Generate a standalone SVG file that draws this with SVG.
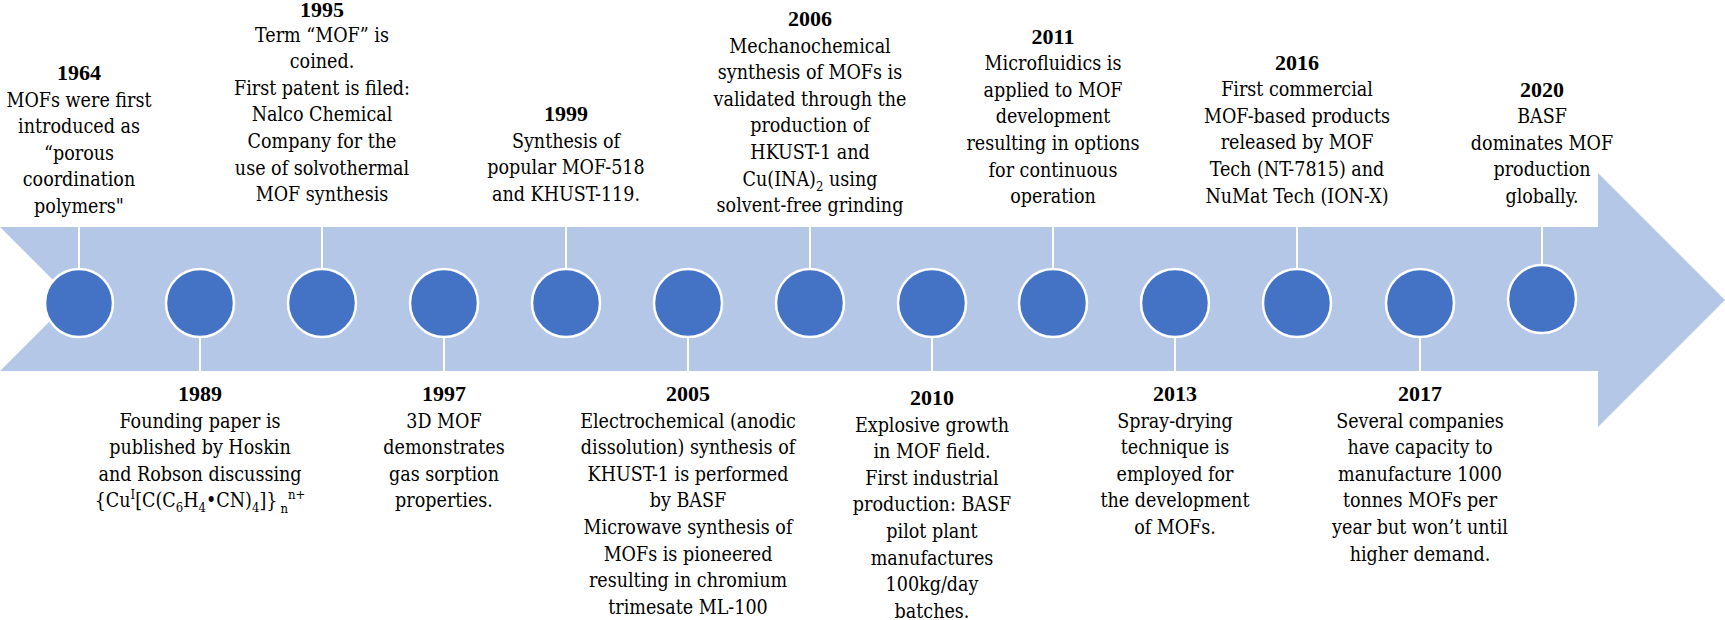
<svg xmlns="http://www.w3.org/2000/svg" width="1725" height="620" viewBox="0 0 1725 620">
<style>
.t{font-family:"DejaVu Serif Condensed","DejaVu Serif",serif;font-size:19.5px;fill:#000;text-anchor:middle}
.yr{font-family:"Liberation Serif","DejaVu Serif",serif;font-size:22px;font-weight:bold}
.s{font-size:13px}
.c{fill:#4472C4;stroke:#fff;stroke-width:2.5}
.ln{stroke:#fff;stroke-width:2;fill:none}
</style>
<rect width="1725" height="620" fill="#fff"/>
<g id="arrow">
<polygon points="0,227 1598,227 1598,173 1725,300 1598,427 1598,371 0,371 72,299" fill="#B4C7E7"/>
</g>
<g id="connectors">
<line class="ln" x1="79" y1="227" x2="79" y2="269"/>
<line class="ln" x1="200" y1="337" x2="200" y2="371"/>
<line class="ln" x1="322" y1="227" x2="322" y2="269"/>
<line class="ln" x1="444" y1="337" x2="444" y2="371"/>
<line class="ln" x1="566" y1="227" x2="566" y2="269"/>
<line class="ln" x1="688" y1="337" x2="688" y2="371"/>
<line class="ln" x1="810" y1="227" x2="810" y2="269"/>
<line class="ln" x1="932" y1="337" x2="932" y2="371"/>
<line class="ln" x1="1053" y1="227" x2="1053" y2="269"/>
<line class="ln" x1="1175" y1="337" x2="1175" y2="371"/>
<line class="ln" x1="1297" y1="227" x2="1297" y2="269"/>
<line class="ln" x1="1420" y1="337" x2="1420" y2="371"/>
<line class="ln" x1="1542" y1="227" x2="1542" y2="265"/>
</g>
<g id="n1964">
<circle class="c" cx="79" cy="303" r="34"/>
<text class="t"><tspan class="yr" x="79" y="80">1964</tspan><tspan x="79" y="106.6">MOFs were first</tspan><tspan x="79" y="133.2">introduced as</tspan><tspan x="79" y="159.8">“porous</tspan><tspan x="79" y="186.4">coordination</tspan><tspan x="79" y="213">polymers"</tspan></text>
</g>
<g id="n1989">
<circle class="c" cx="200" cy="303" r="34"/>
<text class="t"><tspan class="yr" x="200" y="401">1989</tspan><tspan x="200" y="427.6">Founding paper is</tspan><tspan x="200" y="454.2">published by Hoskin</tspan><tspan x="200" y="480.8">and Robson discussing</tspan><tspan x="200" y="507.4">{Cu<tspan class="s" dy="-8">I</tspan><tspan dy="8">[C(C</tspan><tspan class="s" dy="5">6</tspan><tspan dy="-5">H</tspan><tspan class="s" dy="5">4</tspan><tspan dy="-5">•CN)</tspan><tspan class="s" dy="5">4</tspan><tspan dy="-5">]}</tspan><tspan class="s" dx="3" dy="6">n</tspan><tspan class="s" dy="-14">n+</tspan></tspan></text>
</g>
<g id="n1995">
<circle class="c" cx="322" cy="303" r="34"/>
<text class="t"><tspan class="yr" x="322" y="17">1995</tspan><tspan x="322" y="41.6">Term “MOF” is</tspan><tspan x="322" y="68.2">coined.</tspan><tspan x="322" y="94.8">First patent is filed:</tspan><tspan x="322" y="121.4">Nalco Chemical</tspan><tspan x="322" y="148">Company for the</tspan><tspan x="322" y="174.6">use of solvothermal</tspan><tspan x="322" y="201.2">MOF synthesis</tspan></text>
</g>
<g id="n1997">
<circle class="c" cx="444" cy="303" r="34"/>
<text class="t"><tspan class="yr" x="444" y="401">1997</tspan><tspan x="444" y="427.6">3D MOF</tspan><tspan x="444" y="454.2">demonstrates</tspan><tspan x="444" y="480.8">gas sorption</tspan><tspan x="444" y="507.4">properties.</tspan></text>
</g>
<g id="n1999">
<circle class="c" cx="566" cy="303" r="34"/>
<text class="t"><tspan class="yr" x="566" y="121">1999</tspan><tspan x="566" y="147.6">Synthesis of</tspan><tspan x="566" y="174.2">popular MOF-518</tspan><tspan x="566" y="200.8">and KHUST-119.</tspan></text>
</g>
<g id="n2005">
<circle class="c" cx="688" cy="303" r="34"/>
<text class="t"><tspan class="yr" x="688" y="401">2005</tspan><tspan x="688" y="427.6">Electrochemical (anodic</tspan><tspan x="688" y="454.2">dissolution) synthesis of</tspan><tspan x="688" y="480.8">KHUST-1 is performed</tspan><tspan x="688" y="507.4">by BASF</tspan><tspan x="688" y="534">Microwave synthesis of</tspan><tspan x="688" y="560.6">MOFs is pioneered</tspan><tspan x="688" y="587.2">resulting in chromium</tspan><tspan x="688" y="613.8">trimesate ML-100</tspan></text>
</g>
<g id="n2006">
<circle class="c" cx="810" cy="303" r="34"/>
<text class="t"><tspan class="yr" x="810" y="26">2006</tspan><tspan x="810" y="52.6">Mechanochemical</tspan><tspan x="810" y="79.2">synthesis of MOFs is</tspan><tspan x="810" y="105.8">validated through the</tspan><tspan x="810" y="132.4">production of</tspan><tspan x="810" y="159">HKUST-1 and</tspan><tspan x="810" y="185.6">Cu(INA)<tspan class="s" dy="5">2</tspan><tspan dy="-5"> using</tspan></tspan><tspan x="810" y="212.2">solvent-free grinding</tspan></text>
</g>
<g id="n2010">
<circle class="c" cx="932" cy="303" r="34"/>
<text class="t"><tspan class="yr" x="932" y="405">2010</tspan><tspan x="932" y="431.6">Explosive growth</tspan><tspan x="932" y="458.2">in MOF field.</tspan><tspan x="932" y="484.8">First industrial</tspan><tspan x="932" y="511.4">production: BASF</tspan><tspan x="932" y="538">pilot plant</tspan><tspan x="932" y="564.6">manufactures</tspan><tspan x="932" y="591.2">100kg/day</tspan><tspan x="932" y="617.8">batches.</tspan></text>
</g>
<g id="n2011">
<circle class="c" cx="1053" cy="303" r="34"/>
<text class="t"><tspan class="yr" x="1053" y="43.5">2011</tspan><tspan x="1053" y="70.1">Microfluidics is</tspan><tspan x="1053" y="96.7">applied to MOF</tspan><tspan x="1053" y="123.3">development</tspan><tspan x="1053" y="149.9">resulting in options</tspan><tspan x="1053" y="176.5">for continuous</tspan><tspan x="1053" y="203.1">operation</tspan></text>
</g>
<g id="n2013">
<circle class="c" cx="1175" cy="303" r="34"/>
<text class="t"><tspan class="yr" x="1175" y="401">2013</tspan><tspan x="1175" y="427.6">Spray-drying</tspan><tspan x="1175" y="454.2">technique is</tspan><tspan x="1175" y="480.8">employed for</tspan><tspan x="1175" y="507.4">the development</tspan><tspan x="1175" y="534">of MOFs.</tspan></text>
</g>
<g id="n2016">
<circle class="c" cx="1297" cy="303" r="34"/>
<text class="t"><tspan class="yr" x="1297" y="69.5">2016</tspan><tspan x="1297" y="96.1">First commercial</tspan><tspan x="1297" y="122.7">MOF-based products</tspan><tspan x="1297" y="149.3">released by MOF</tspan><tspan x="1297" y="175.9">Tech (NT-7815) and</tspan><tspan x="1297" y="202.5">NuMat Tech (ION-X)</tspan></text>
</g>
<g id="n2017">
<circle class="c" cx="1420" cy="303" r="34"/>
<text class="t"><tspan class="yr" x="1420" y="401">2017</tspan><tspan x="1420" y="427.6">Several companies</tspan><tspan x="1420" y="454.2">have capacity to</tspan><tspan x="1420" y="480.8">manufacture 1000</tspan><tspan x="1420" y="507.4">tonnes MOFs per</tspan><tspan x="1420" y="534">year but won’t until</tspan><tspan x="1420" y="560.6">higher demand.</tspan></text>
</g>
<g id="n2020">
<circle class="c" cx="1542" cy="299" r="34"/>
<text class="t"><tspan class="yr" x="1542" y="96.5">2020</tspan><tspan x="1542" y="123.1">BASF</tspan><tspan x="1542" y="149.7">dominates MOF</tspan><tspan x="1542" y="176.3">production</tspan><tspan x="1542" y="202.9">globally.</tspan></text>
</g>
</svg>
